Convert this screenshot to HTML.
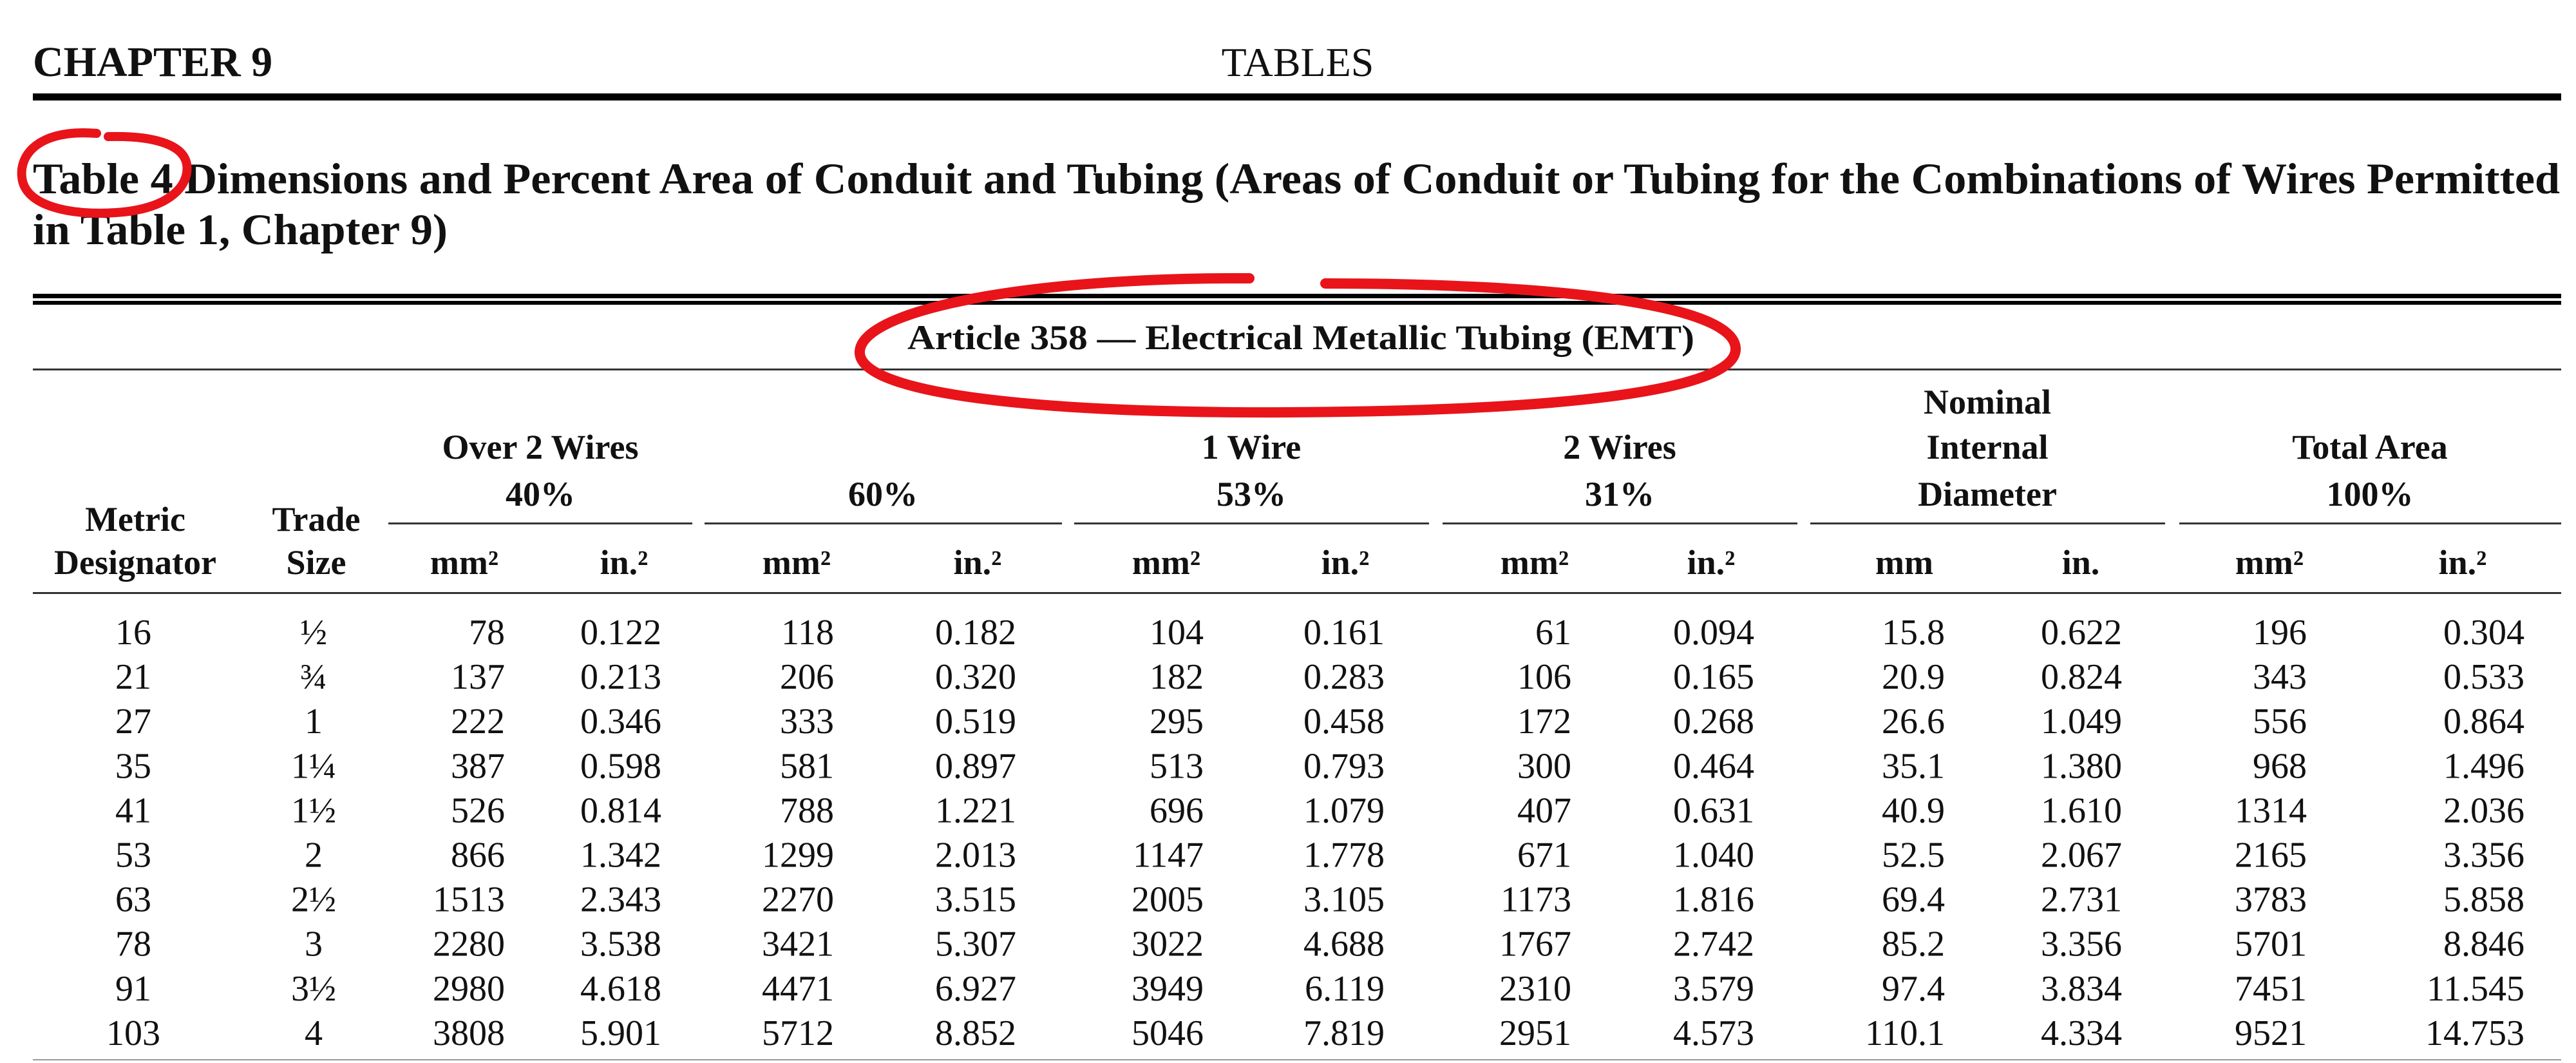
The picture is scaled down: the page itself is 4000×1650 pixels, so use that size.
<!DOCTYPE html>
<html><head><meta charset="utf-8"><style>
html,body{margin:0;padding:0;background:#fff;}
svg{display:block;}
</style></head><body>
<svg id="page" width="4000" height="1650" viewBox="0 0 4000 1650" xmlns="http://www.w3.org/2000/svg" font-family="'Liberation Serif', serif" fill="#111">
<rect width="4000" height="1650" fill="#fff"/>
<text x="51" y="118" font-size="66" font-weight="bold">CHAPTER 9</text>
<text x="2015" y="118" font-size="64" text-anchor="middle">TABLES</text>
<rect x="51" y="145" width="3926" height="11" fill="#000"/>
<text x="51" y="300" font-size="68" font-weight="bold" textLength="3924" lengthAdjust="spacingAndGlyphs">Table 4 Dimensions and Percent Area of Conduit and Tubing (Areas of Conduit or Tubing for the Combinations of Wires Permitted</text>
<text x="51" y="379" font-size="68" font-weight="bold" textLength="644" lengthAdjust="spacingAndGlyphs">in Table 1, Chapter 9)</text>
<rect x="51" y="456" width="3926" height="7" fill="#000"/>
<rect x="51" y="467" width="3926" height="6" fill="#000"/>
<text x="1409" y="542" font-size="54" font-weight="bold" textLength="1222" lengthAdjust="spacingAndGlyphs">Article 358 — Electrical Metallic Tubing (EMT)</text>
<rect x="51" y="572" width="3926" height="3" fill="#333"/>
<g font-weight="bold" font-size="54" text-anchor="middle">
<text x="839" y="712">Over 2 Wires</text>
<text x="839" y="785">40%</text>
<text x="1371" y="785">60%</text>
<text x="1943" y="712">1 Wire</text>
<text x="1943" y="785">53%</text>
<text x="2515" y="712">2 Wires</text>
<text x="2515" y="785">31%</text>
<text x="3086" y="642">Nominal</text>
<text x="3086" y="712">Internal</text>
<text x="3086" y="785">Diameter</text>
<text x="3680" y="712">Total Area</text>
<text x="3680" y="785">100%</text>
<text x="210" y="824">Metric</text>
<text x="210" y="891">Designator</text>
<text x="491" y="824">Trade</text>
<text x="491" y="891">Size</text>
</g>
<g fill="#333">
<rect x="603" y="811" width="472" height="3"/>
<rect x="1094" y="811" width="555" height="3"/>
<rect x="1668" y="811" width="551" height="3"/>
<rect x="2240" y="811" width="551" height="3"/>
<rect x="2811" y="811" width="551" height="3"/>
<rect x="3384" y="811" width="593" height="3"/>
</g>
<g id="units" font-weight="bold" font-size="54" text-anchor="middle"></g>
<rect x="51" y="919" width="3926" height="3" fill="#333"/>
<g id="body" font-size="56"></g>
<rect x="51" y="1644" width="3926" height="2" fill="#999"/>
<path d="M150,207 C60,200 30,240 34,275 C38,320 110,335 180,330 C260,325 295,290 290,255 C285,225 240,210 168,212" fill="none" stroke="#e8141a" stroke-width="14" stroke-linecap="round"/>
<path d="M1940,432 C1600,430 1340,480 1335,545 C1330,610 1600,642 2000,640 C2400,638 2700,610 2695,540 C2690,470 2400,440 2058,440" fill="none" stroke="#e8141a" stroke-width="16" stroke-linecap="round"/>
</svg>
<script>
var unitLabels = ["mm²","in.²","mm²","in.²","mm²","in.²","mm²","in.²","mm","in.","mm²","in.²"];
var metric = ["16","21","27","35","41","53","63","78","91","103"];
var trade = ["½","¾","1","1¼","1½","2","2½","3","3½","4"];
var over2mm = ["78","137","222","387","526","866","1513","2280","2980","3808"];
var over2in = ["0.122","0.213","0.346","0.598","0.814","1.342","2.343","3.538","4.618","5.901"];
var p60mm = ["118","206","333","581","788","1299","2270","3421","4471","5712"];
var p60in = ["0.182","0.320","0.519","0.897","1.221","2.013","3.515","5.307","6.927","8.852"];
var w1mm = ["104","182","295","513","696","1147","2005","3022","3949","5046"];
var w1in = ["0.161","0.283","0.458","0.793","1.079","1.778","3.105","4.688","6.119","7.819"];
var w2mm = ["61","106","172","300","407","671","1173","1767","2310","2951"];
var w2in = ["0.094","0.165","0.268","0.464","0.631","1.040","1.816","2.742","3.579","4.573"];
var diaMm = ["15.8","20.9","26.6","35.1","40.9","52.5","69.4","85.2","97.4","110.1"];
var diaIn = ["0.622","0.824","1.049","1.380","1.610","2.067","2.731","3.356","3.834","4.334"];
var totMm = ["196","343","556","968","1314","2165","3783","5701","7451","9521"];
var totIn = ["0.304","0.533","0.864","1.496","2.036","3.356","5.858","8.846","11.545","14.753"];

var NS = "http://www.w3.org/2000/svg";
var unitX = [721,969,1237,1518,1811,2089,2383,2657,2957,3231,3524,3824];
var ug = document.getElementById("units");
unitLabels.forEach(function(u,i){
  var t = document.createElementNS(NS,"text");
  t.setAttribute("x", unitX[i]); t.setAttribute("y", 891);
  
  
  t.textContent = u; ug.appendChild(t);
});
var cols = [
  {d:metric, x:207, a:"middle"},
  {d:trade, x:487, a:"middle"},
  {d:over2mm, x:784, a:"end"},
  {d:over2in, x:1027, a:"end"},
  {d:p60mm, x:1295, a:"end"},
  {d:p60in, x:1578, a:"end"},
  {d:w1mm, x:1869, a:"end"},
  {d:w1in, x:2150, a:"end"},
  {d:w2mm, x:2440, a:"end"},
  {d:w2in, x:2724, a:"end"},
  {d:diaMm, x:3020, a:"end"},
  {d:diaIn, x:3295, a:"end"},
  {d:totMm, x:3582, a:"end"},
  {d:totIn, x:3920, a:"end"}
];
var bg = document.getElementById("body");
function rowY(i){ return 1000 + i*69.1; }
cols.forEach(function(c){
  c.d.forEach(function(v,i){
    var t = document.createElementNS(NS,"text");
    t.setAttribute("x", c.x); t.setAttribute("y", rowY(i));
    t.setAttribute("text-anchor", c.a);
    
    
    t.textContent = v; bg.appendChild(t);
  });
});
</script>
</body></html>
